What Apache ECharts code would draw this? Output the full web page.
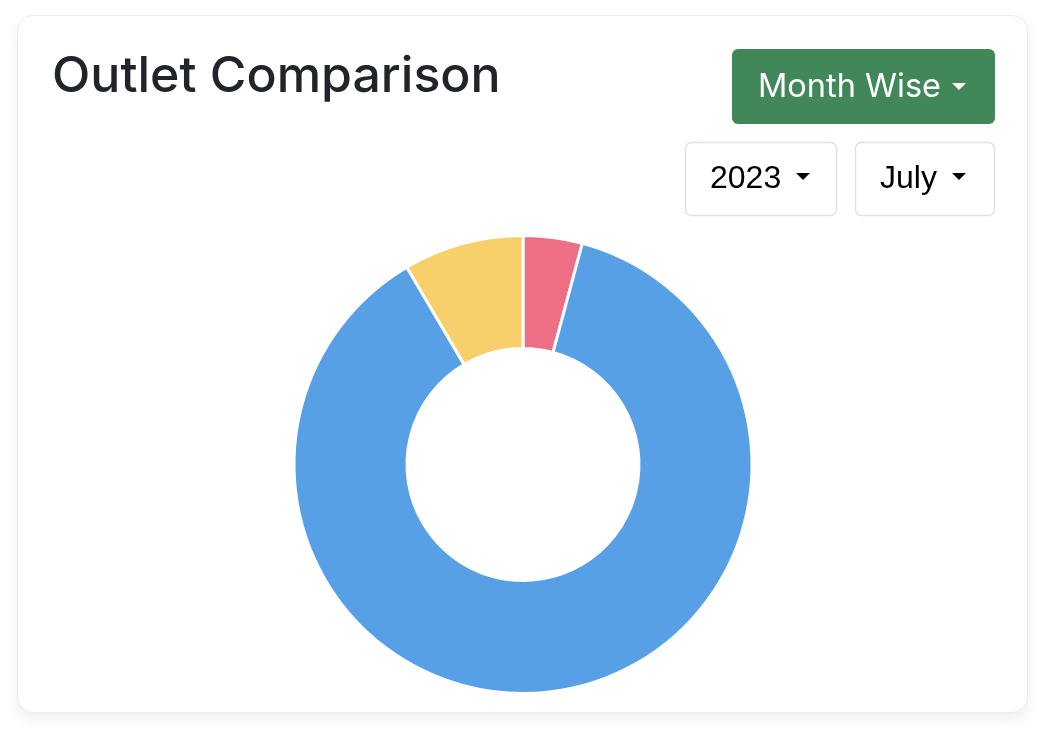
<!DOCTYPE html>
<html>
<head>
<meta charset="utf-8">
<script src="https://cdn.jsdelivr.net/npm/echarts@6/dist/echarts.min.js"></script>
<style>
  html, body { margin: 0; padding: 0; background: #ffffff; width: 1054px; height: 736px; overflow: hidden; }
  #card { position: absolute; left: 17px; top: 15px; width: 1009px; height: 696px;
          border: 1px solid #ececec; border-radius: 16px; background: #fff;
          box-shadow: 0 6px 14px rgba(0,0,0,0.07); }
  #chart { position: absolute; left: 0; top: 0; width: 1054px; height: 736px; }
</style>
</head>
<body>
<div id="card"></div>
<div id="chart"></div>
<script>
// ---- data ----
const titleText = 'Outlet Comparison';
const outletNames = ['Outlet A', 'Outlet B', 'Outlet C'];
const outletValues = [4.17, 87.36, 8.47];
const outletColors = ['#EE6E85', '#57A0E5', '#F7CF6B'];
const viewModeLabel = 'Month Wise';
const yearLabel = '2023';
const monthLabel = 'July';

const chart = echarts.init(document.getElementById('chart'), null, { renderer: 'canvas' });

function caret(x, y, fill) {
  return { type: 'polygon', shape: { points: [[x, y], [x + 14, y], [x + 7, y + 7]] }, style: { fill: fill } };
}

const option = {
  backgroundColor: 'transparent',
  animation: false,
  title: {
    text: titleText, left: 47, top: 47,
    textStyle: { fontFamily: 'Inter', fontWeight: 500, fontSize: 50, color: '#212529' }
  },
  tooltip: { show: false },
  graphic: [
    { type: 'rect', shape: { x: 732, y: 49, width: 263, height: 75, r: 6 }, style: { fill: '#41875A' } },
    { type: 'text', x: 758, y: 87, style: { text: viewModeLabel, fill: '#ffffff', font: '400 32.5px Inter', textVerticalAlign: 'middle' } },
    caret(952, 83, '#ffffff'),
    { type: 'rect', shape: { x: 685.5, y: 142.5, width: 151, height: 73, r: 6 }, style: { fill: '#ffffff', stroke: '#dee2e6', lineWidth: 1.5 } },
    { type: 'text', x: 710, y: 179, style: { text: yearLabel, fill: '#000000', font: '32px "Liberation Sans"', textVerticalAlign: 'middle' } },
    caret(796, 173, '#000000'),
    { type: 'rect', shape: { x: 855.5, y: 142.5, width: 139, height: 73, r: 6 }, style: { fill: '#ffffff', stroke: '#dee2e6', lineWidth: 1.5 } },
    { type: 'text', x: 880, y: 179, style: { text: monthLabel, fill: '#000000', font: '32px "Liberation Sans"', textVerticalAlign: 'middle' } },
    caret(952, 173, '#000000')
  ],
  series: [{
    type: 'pie',
    center: [523, 464.5],
    radius: [116, 229],
    startAngle: 90,
    clockwise: true,
    label: { show: false },
    labelLine: { show: false },
    itemStyle: { borderColor: '#ffffff', borderWidth: 3 },
    emphasis: { disabled: true },
    data: outletNames.map((n, i) => ({ name: n, value: outletValues[i], itemStyle: { color: outletColors[i] } }))
  }]
};
chart.setOption(option);
</script>
</body>
</html>
